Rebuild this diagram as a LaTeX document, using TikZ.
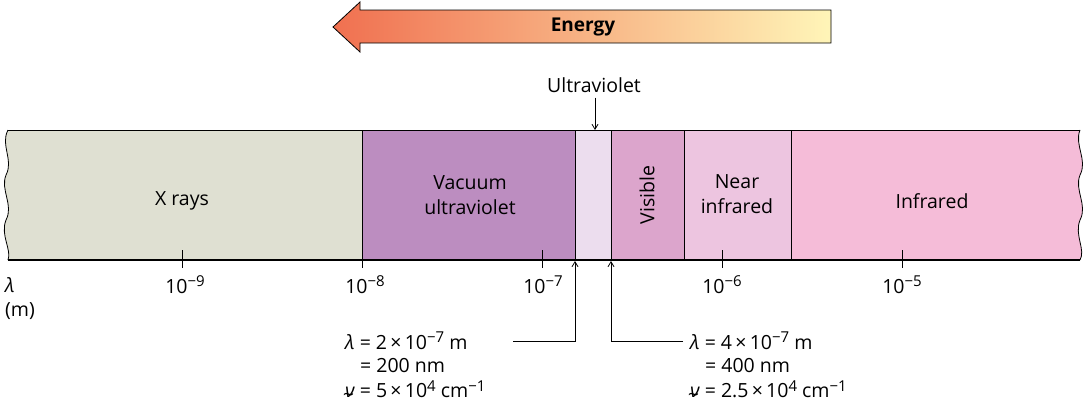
\documentclass[tikz,border=0pt]{standalone}
\usepackage{fontspec}
\setmainfont{Open Sans}
\usetikzlibrary{arrows.meta}
\definecolor{cx}{HTML}{DFE0D2}
\definecolor{cvu}{HTML}{BC8DC0}
\definecolor{cuv}{HTML}{ECDDEE}
\definecolor{cvis}{HTML}{DCA5CC}
\definecolor{cnir}{HTML}{EDC5E0}
\definecolor{cir}{HTML}{F5BCD8}
\definecolor{eL}{HTML}{F07050}
\definecolor{eR}{HTML}{FFF5B8}
\newcommand{\sps}[1]{\raisebox{0.65ex}{\fontsize{15}{16}\selectfont #1}}
\newcommand{\lam}{{\itshape λ}}
\newcommand{\nut}{{\itshape ν\llap{\raisebox{-0.35ex}{\~{}}\kern1pt}}}
\begin{document}
\begin{tikzpicture}[x=1pt,y=-1pt,
  lab/.style={font=\fontsize{19.5}{25}\selectfont,inner sep=0pt},
  seg/.style={draw=black,line width=0.8pt},
  ptr/.style={draw=black,line width=0.8pt,-{Straight Barb[length=5pt,width=6pt]}}]
\useasboundingbox (0,0) rectangle (1085,415);
% energy arrow
\shade[left color=eL,right color=eR,draw=black,line width=0.8pt]
 (333,27)--(360,2)--(360,10)--(831,10)--(831,43)--(360,43)--(360,52)--cycle;
\node[lab,font=\fontsize{19}{20}\selectfont\bfseries] (en) at (583,27) {Energy};
% bar segments
\fill[cx] (8,130) .. controls (0,145) and (14,160) .. (6,175) .. controls (0,190) and (14,205) .. (6,220) .. controls (0,235) and (12,250) .. (8,260) -- (362,260) -- (362,130) -- cycle;
\draw[line width=0.8pt] (8,130) .. controls (0,145) and (14,160) .. (6,175) .. controls (0,190) and (14,205) .. (6,220) .. controls (0,235) and (12,250) .. (8,260);
\fill[cvu] (362,130) rectangle (575,260);
\fill[cuv] (575,130) rectangle (611,260);
\fill[cvis] (611,130) rectangle (684,260);
\fill[cnir] (684,130) rectangle (791,260);
\fill[cir] (791,130) -- (1080,130) .. controls (1074,145) and (1088,160) .. (1080,175) .. controls (1074,190) and (1088,205) .. (1080,220) .. controls (1074,235) and (1086,250) .. (1080,260) -- (791,260) -- cycle;
\draw[line width=0.8pt] (1080,130) .. controls (1074,145) and (1088,160) .. (1080,175) .. controls (1074,190) and (1088,205) .. (1080,220) .. controls (1074,235) and (1086,250) .. (1080,260);
\draw[line width=0.8pt] (8,130) -- (1080,130);
\draw[line width=1.4pt] (8,260) -- (1080,260);
\foreach \x in {362,575,611,684,791} \draw[line width=0.8pt] (\x,130) -- (\x,260);
\foreach \x in {182,362,542,722,902} \draw[line width=0.8pt] (\x,250) -- (\x,268);
% labels
\node[lab] (xr) at (182,201) {X rays};
\node[lab,align=center] (vu) at (470,195) {Vacuum\\ultraviolet};
\node[lab,rotate=90] (vis) at (647,195) {Visible};
\node[lab,align=center] (nir) at (737,194) {Near\\infrared};
\node[lab] (ir) at (932,201) {Infrared};
\node[lab] (uv) at (594,85) {Ultraviolet};
\coordinate (uvb) at (595,130);
\draw[ptr] (uv.south -| uvb) ++(0,5) -- (uvb);
% axis labels
\node[lab,anchor=west] (lam) at (5,285) {\lam};
\node[lab,anchor=west] (mm) at (5,311) {(m)};
\node[lab] (t9) at (185,285) {10\sps{−9}};
\node[lab] (t8) at (365,285) {10\sps{−8}};
\node[lab] (t7) at (543,285) {10\sps{−7}};
\node[lab] (t6) at (722,285) {10\sps{−6}};
\node[lab] (t5) at (902,285) {10\sps{−5}};
% annotations
\node[lab,anchor=west] (a1) at (345,341) {\lam{} = 2\,×\,10\sps{−7} m};
\node[lab,anchor=west] (a2) at (360,366) {= 200 nm};
\node[lab,anchor=west] (a3) at (345,391) {\nut{} = 5\,×\,10\sps{4} cm\sps{−1}};
\node[lab,anchor=west] (b1) at (690,341) {\lam{} = 4\,×\,10\sps{−7} m};
\node[lab,anchor=west] (b2) at (705,366) {= 400 nm};
\node[lab,anchor=west] (b3) at (690,391) {\nut{} = 2.5\,×\,10\sps{4} cm\sps{−1}};
\coordinate (p1) at (575,261);
\coordinate (p2) at (611,261);
\draw[ptr] (513,341) -| (p1);
\draw[ptr] (683,341) -| (p2);
\end{tikzpicture}
\end{document}
